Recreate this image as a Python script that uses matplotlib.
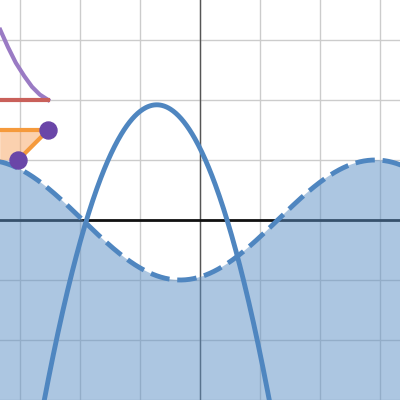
import numpy as np
import matplotlib
matplotlib.use("Agg")
import matplotlib.pyplot as plt

# data
wave_amp = 1.0
wave_period = 6.5
wave_peak_x = -3.58
parab_vertex = (-0.72, 1.92)
parab_a = 1.4
curve_x = [-3.33, -3.2, -3.07, -2.93, -2.8, -2.67, -2.53]
curve_y = [3.17, 2.88, 2.62, 2.4, 2.22, 2.09, 2.0]
red_x = [-3.33, -2.53]
red_y = [2.0, 2.0]
poly_x = [-3.33, -2.53, -3.03, -3.33]
poly_y = [1.5, 1.5, 1.0, 1.0]
pts_x = [-2.53, -3.03]
pts_y = [1.5, 1.0]

fig = plt.figure(figsize=(4, 4), dpi=100)
ax = fig.add_axes([0, 0, 1, 1])
ax.set_xlim(-10/3, 10/3)
ax.set_ylim(-3, 11/3)
for gx in np.arange(-3, 4):
    ax.axvline(gx, color="#cccccc", lw=1, zorder=0)
for gy in np.arange(-3, 4):
    ax.axhline(gy, color="#cccccc", lw=1, zorder=0)
ax.axvline(0, color="#555555", lw=1, zorder=1)
ax.axhline(0, color="#111111", lw=2, zorder=1)

x = np.linspace(-3.4, 3.4, 600)
yw = wave_amp * np.cos(2*np.pi*(x - wave_peak_x)/wave_period)
ax.fill_between(x, yw, -3, color="#5b8fc5", alpha=0.5, lw=0, zorder=2)
ax.plot(x, yw, color="#4f86c0", lw=3.5, ls=(0, (4, 1.6)), zorder=3)
yp = parab_vertex[1] - parab_a*(x - parab_vertex[0])**2
ax.plot(x, yp, color="#4f86c0", lw=3.5, zorder=3)

ax.fill(poly_x, poly_y, color="#f8a560", alpha=0.5, lw=0, zorder=4)
ax.plot(poly_x[:3], poly_y[:3], color="#f59a3c", lw=3, zorder=5)
ax.plot(curve_x, curve_y, color="#9a7bc4", lw=3, zorder=5)
ax.plot(red_x, red_y, color="#c9605a", lw=3, zorder=5)
ax.scatter(pts_x, pts_y, s=150, color="#6a46a8", zorder=6)
ax.axis("off")
fig.savefig("out.png", dpi=100)
